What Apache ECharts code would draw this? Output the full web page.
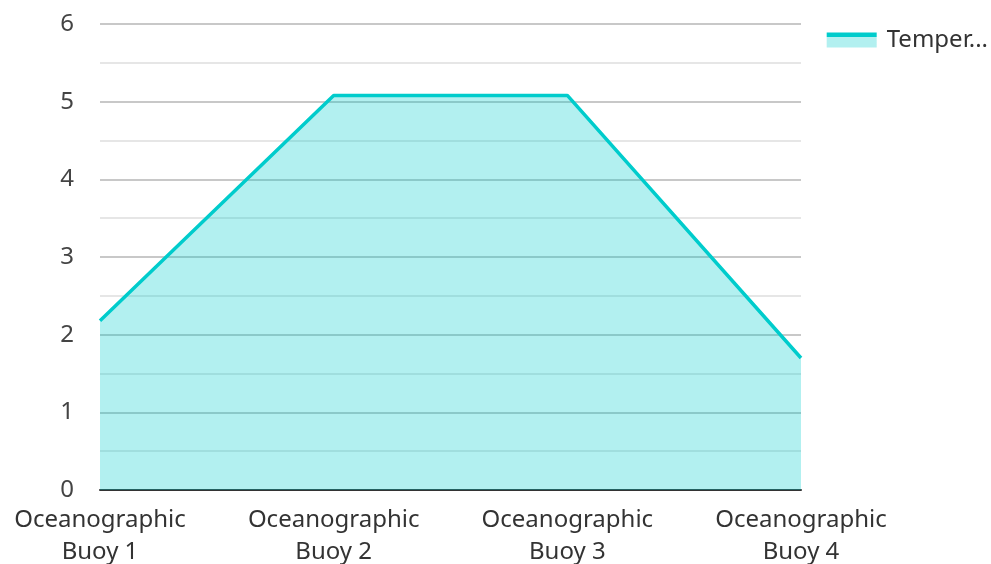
<!DOCTYPE html>
<html>
<head>
<meta charset="utf-8">
<style>
  html, body { margin: 0; padding: 0; background: #fff; }
  #chart { width: 991px; height: 564px; }
</style>
<script src="https://cdn.jsdelivr.net/npm/echarts@6/dist/echarts.min.js"></script>
</head>
<body>
<div id="chart"></div>
<script>
// Buoy stations along the category axis
const categories = ['Oceanographic\nBuoy 1', 'Oceanographic\nBuoy 2', 'Oceanographic\nBuoy 3', 'Oceanographic\nBuoy 4'];
// Water temperature reading per buoy
const temperature = [2.18, 5.08, 5.08, 1.7];
const seriesName = 'Temperature';

const lineColor = '#00cccc';
const areaColor = '#b2f0f0';
const font = '"Noto Sans", sans-serif';

const chart = echarts.init(document.getElementById('chart'), null, { renderer: 'canvas' });
chart.setOption({
  animation: false,
  grid: { left: 100, right: 190, top: 24, bottom: 74, containLabel: false, outerBoundsMode: 'none' },
  legend: {
    right: -2,
    top: 23,
    itemWidth: 50,
    itemHeight: 15,
    itemGap: 10,
    data: [{
      name: seriesName,
      icon: 'rect',
      itemStyle: {
        color: new echarts.graphic.LinearGradient(0, 0, 0, 1, [
          { offset: 0, color: lineColor },
          { offset: 0.28, color: lineColor },
          { offset: 0.28, color: areaColor },
          { offset: 1, color: areaColor }
        ])
      }
    }],
    textStyle: {
      fontFamily: font, fontSize: 24, color: '#333',
      width: 110, overflow: 'truncate', ellipsis: '...', padding: [0, 0, 0, 5]
    }
  },
  xAxis: {
    type: 'category',
    data: categories,
    boundaryGap: false,
    axisLine: { lineStyle: { color: '#333', width: 2 } },
    axisTick: { show: false },
    axisLabel: { fontFamily: font, fontSize: 24, color: '#333', lineHeight: 32, margin: 14 },
    splitLine: { show: false }
  },
  yAxis: {
    type: 'value',
    min: 0, max: 6, interval: 1,
    axisLine: { show: false },
    axisTick: { show: false },
    axisLabel: { fontFamily: font, fontSize: 24, color: '#444', margin: 26 },
    splitLine: { lineStyle: { color: '#c8c8c8', width: 2 } },
    minorTick: { show: false, splitNumber: 2 },
    minorSplitLine: { show: true, lineStyle: { color: '#e6e6e6', width: 2 } }
  },
  series: [{
    name: seriesName,
    type: 'line',
    data: temperature,
    symbol: 'none',
    lineStyle: { color: lineColor, width: 3.5 },
    itemStyle: { color: lineColor },
    areaStyle: { color: lineColor, opacity: 0.3 },
    z: 3
  }]
});
</script>
</body>
</html>
